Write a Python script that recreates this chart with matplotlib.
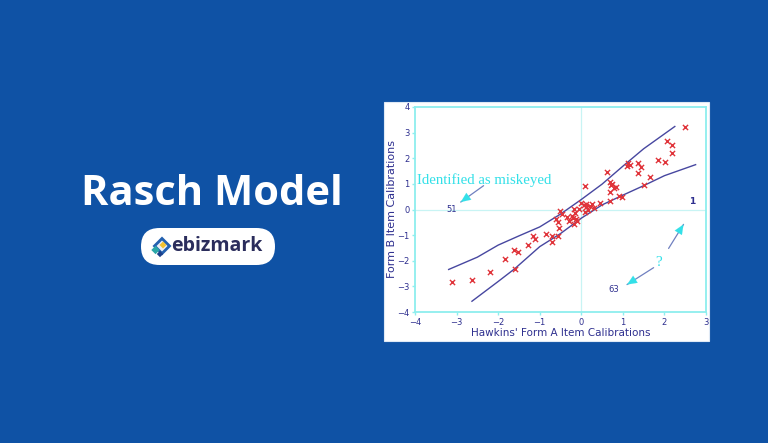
import matplotlib
matplotlib.use("Agg")
import matplotlib.pyplot as plt
from matplotlib.patches import Rectangle, FancyBboxPatch, Polygon

# ---------------- data ----------------
title_text = "Rasch Model"
brand_text = "ebizmark"

form_a = [2.50, 2.05, 2.19, 2.19, 1.85, 2.01, 1.13, 1.36, 1.44, 1.10, 1.36, 1.66,
          0.63, 0.70, 0.75, 0.83, 0.78, 0.68, 1.50, 0.08, 0.91, 0.97, 0.68, 0.46,
          0.26, 0.00, 0.06, 0.11, 0.15, 0.10, -0.05, -0.18, -0.15, -0.51, -0.47,
          -0.62, -0.55, -0.22, -0.21, -0.29, -0.17, -0.12, -0.53, -0.57, -0.71,
          -0.86, -0.70, -1.16, -1.11, -1.28, -1.61, -1.52, -1.84, -2.19, -1.60,
          -2.62, -3.10, 0.20, -0.10, 0.30, -0.35, 0.12, 1.16, 0.72]
form_b = [3.22, 2.69, 2.51, 2.21, 1.95, 1.84, 1.82, 1.83, 1.66, 1.69, 1.42, 1.28,
          1.48, 1.07, 0.99, 0.89, 0.84, 0.67, 0.95, 0.90, 0.51, 0.47, 0.34, 0.27,
          0.21, 0.27, 0.17, 0.08, -0.01, -0.09, 0.01, 0.03, -0.12, -0.05, -0.18,
          -0.39, -0.50, -0.25, -0.34, -0.44, -0.55, -0.39, -0.71, -1.02, -1.05,
          -0.97, -1.25, -1.02, -1.16, -1.39, -1.57, -1.65, -1.95, -2.42, -2.31,
          -2.76, -2.82, 0.12, -0.45, 0.05, -0.30, 0.22, 1.74, 0.95]

upper_x = [-3.19, -2.5, -2.0, -1.5, -1.0, -0.5, 0.0, 0.5, 1.0, 1.5, 2.25]
upper_y = [-2.34, -1.86, -1.39, -1.03, -0.68, -0.18, 0.39, 0.99, 1.69, 2.37, 3.24]
lower_x = [-2.63, -2.0, -1.6, -1.0, -0.5, 0.0, 0.5, 1.0, 1.5, 2.0, 2.75]
lower_y = [-3.58, -2.81, -2.31, -1.45, -0.94, -0.34, 0.18, 0.56, 0.93, 1.32, 1.75]

x_ticks = [-4, -3, -2, -1, 0, 1, 2, 3]
y_ticks = [-4, -3, -2, -1, 0, 1, 2, 3, 4]

# ---------------- styles ----------------
BG = "#0f52a5"
NAVY = "#2e2f8f"
CYAN = "#33e0e8"
FRAME = "#8eeeee"
RED = "#e0343a"
LINE = "#4747a0"

W, H = 768, 443
fig = plt.figure(figsize=(W / 100, H / 100), dpi=100)
fig.patch.set_facecolor(BG)

# background canvas in pixel coordinates
bg = fig.add_axes([0, 0, 1, 1], zorder=0)
bg.set_xlim(0, W)
bg.set_ylim(H, 0)
bg.axis("off")

bg.text(212, 194, title_text, color="white", fontsize=30,
        fontweight="bold", family="Open Sans", ha="center", va="center")

pill = FancyBboxPatch((141 + 18.5, 228 + 18.5), 134 - 37, 0.001,
                      boxstyle="round,pad=18.5",
                      facecolor="white", edgecolor="none")
bg.add_patch(pill)

def diamond(cx, cy, r, color):
    bg.add_patch(Polygon([(cx - r, cy), (cx, cy - r), (cx + r, cy), (cx, cy + r)],
                         closed=True, facecolor=color, edgecolor="none"))

diamond(162, 246, 9.5, "#2361b0")
diamond(162, 246, 5.5, "#e9eef7")
diamond(163, 245, 3.5, "#f2c230")
diamond(155.5, 250, 4.2, "#2aa7a8")
diamond(160, 254, 3.2, "#1b3f8a")
bg.text(217, 245.5, brand_text, color="#2b2d5c", fontsize=14,
        fontweight="bold", family="Open Sans", ha="center", va="center")

# white chart panel
bg.add_patch(Rectangle((384, 102), 709 - 384, 341 - 102,
                       facecolor="white", edgecolor="#dfe9f5", linewidth=0.8))

# ---------------- scatter chart ----------------
ax = fig.add_axes([415 / W, 1 - 312 / H, (706 - 415) / W, (312 - 107) / H], zorder=2)
ax.set_xlim(-4, 3)
ax.set_ylim(-4, 4)
ax.set_facecolor("white")
for s in ax.spines.values():
    s.set_color(FRAME)
    s.set_linewidth(1.3)
ax.axvline(0, color="#c8f4f4", lw=0.9, zorder=1)
ax.axhline(0, color="#c8f4f4", lw=0.9, zorder=1)

ax.plot(upper_x, upper_y, color=LINE, lw=1.0, zorder=2)
ax.plot(lower_x, lower_y, color=LINE, lw=1.0, zorder=2)
ax.scatter(form_a, form_b, marker="x", s=14, color=RED, linewidths=1.0, zorder=3)

ax.set_xticks(x_ticks)
ax.set_yticks(y_ticks)
ax.set_xticklabels([str(v) if v >= 0 else "\u2212" + str(-v) for v in x_ticks])
ax.set_yticklabels([str(v) if v >= 0 else "\u2212" + str(-v) for v in y_ticks])
ax.tick_params(colors=FRAME, labelcolor=NAVY, labelsize=6, length=2.5,
               direction="out", width=1, pad=1.5)
ax.set_xlabel("Hawkins' Form A Item Calibrations", color=NAVY, fontsize=7.5)
ax.xaxis.set_label_coords(0.5, -0.08)
ax.set_ylabel("Form B Item Calibrations", color=NAVY, fontsize=8)
ax.yaxis.set_label_coords(-0.062, 0.5)

# annotations
ax.text(-3.96, 1.16, "Identified as miskeyed", color=CYAN, fontsize=10.7,
        family="Liberation Serif", ha="left", va="center")
ax.text(-3.11, 0.01, "51", color=NAVY, fontsize=6, ha="center", va="center")
ax.text(2.66, 0.30, "1", color=NAVY, fontsize=6.5, fontweight="bold",
        ha="center", va="center")
ax.text(0.78, -3.12, "63", color=NAVY, fontsize=6, ha="center", va="center")
ax.text(1.86, -2.08, "?", color=CYAN, fontsize=11, family="Liberation Serif",
        ha="center", va="center")

def cyan_arrow(x0, y0, x1, y1):
    ax.annotate("", xy=(x1, y1), xytext=(x0, y0),
                arrowprops=dict(arrowstyle="-", color="#7080c0", lw=0.9,
                                shrinkA=0, shrinkB=0))
    ax.annotate("", xy=(x1, y1), xytext=(x0 + (x1 - x0) * 0.6, y0 + (y1 - y0) * 0.6),
                arrowprops=dict(arrowstyle="-|>,head_length=0.7,head_width=0.3",
                                color=CYAN, lw=0.1, shrinkA=0, shrinkB=0))

cyan_arrow(-2.35, 0.93, -2.90, 0.29)
cyan_arrow(2.10, -1.52, 2.46, -0.58)
cyan_arrow(1.74, -2.27, 1.10, -2.93)

fig.savefig("out.png", dpi=100, facecolor=BG)
